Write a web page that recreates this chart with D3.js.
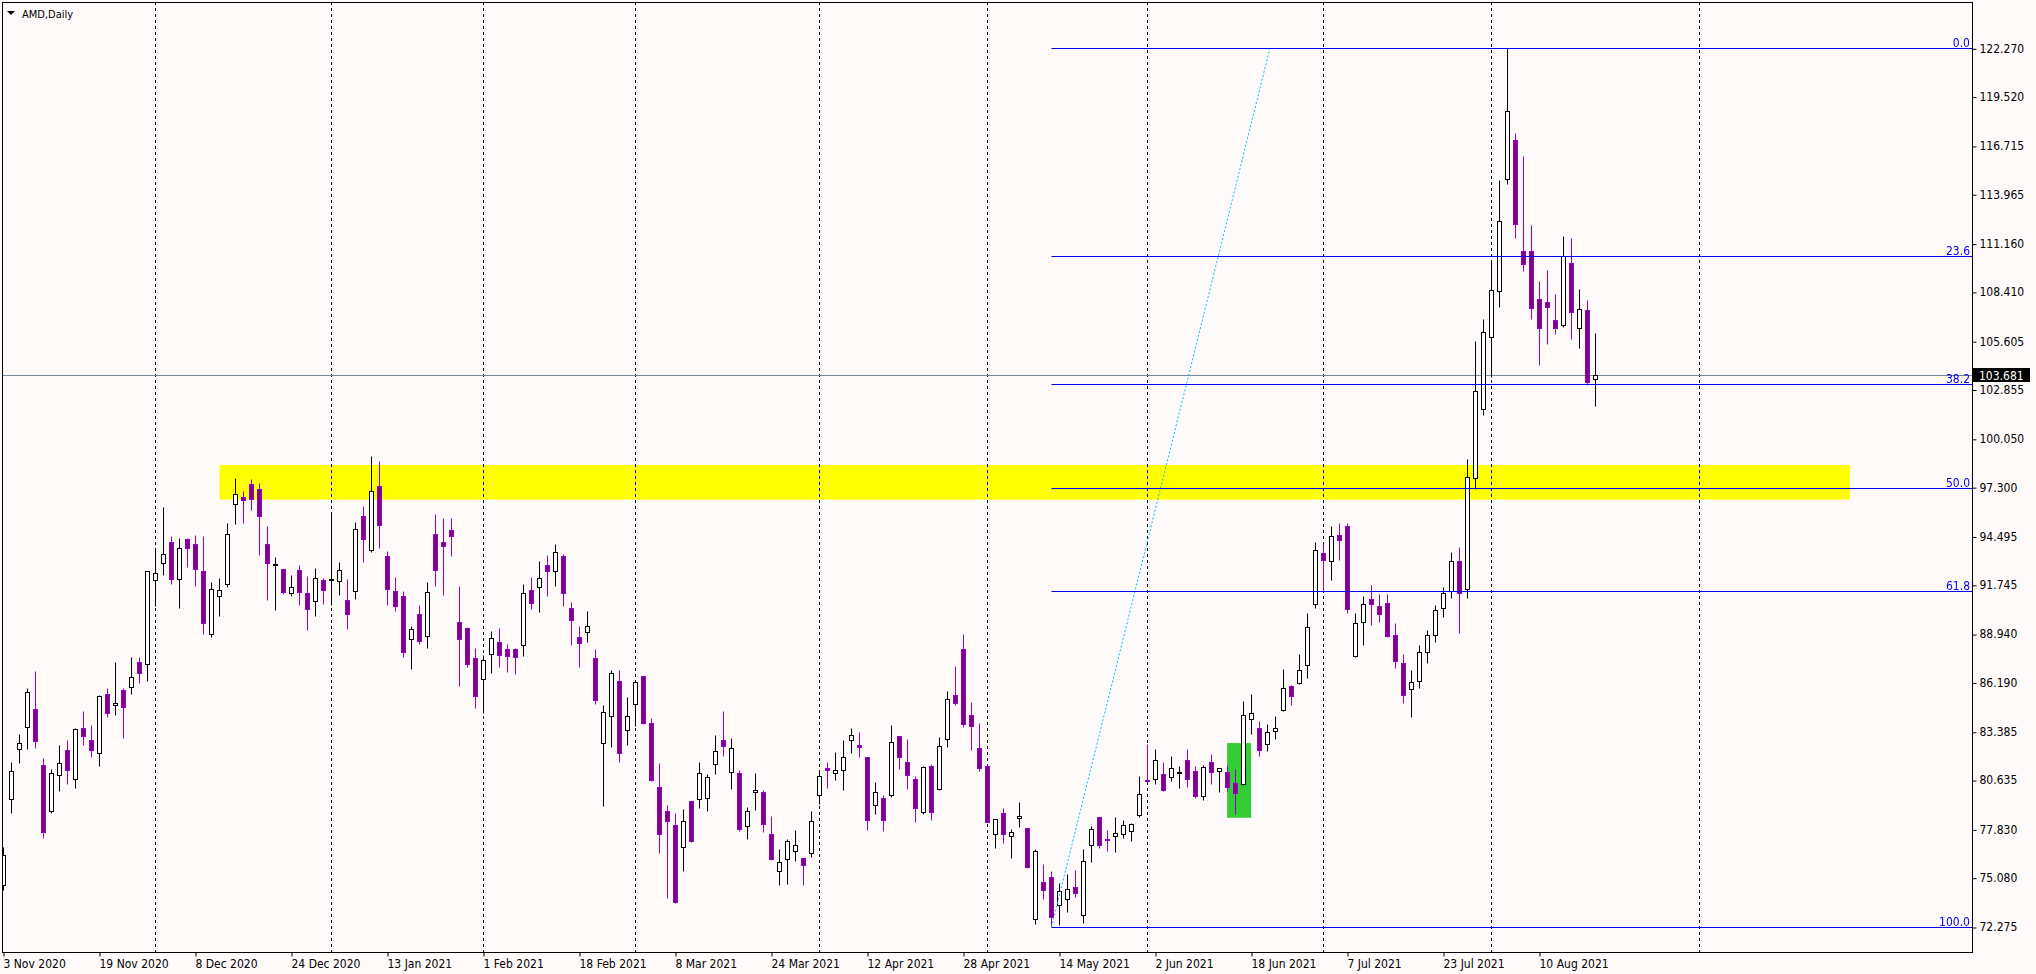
<!DOCTYPE html>
<html><head><meta charset="utf-8">
<script src="https://cdn.jsdelivr.net/npm/d3@7"></script>
<style>
html,body{margin:0;padding:0;background:#fffafa;}
svg{display:block;}
</style></head><body>
<svg id="c" width="2036" height="974"></svg>
<script>
const title = "AMD,Daily";
const openP = [
74.65,79.54,82.39,83.64,84.66,81.48,78.86,80.91,82.33,80.68,
83.58,82.90,82.16,85.52,84.89,85.74,85.91,87.34,87.22,92.00,
92.97,94.16,92.06,94.33,94.05,92.51,88.97,91.09,91.77,96.32,
96.72,97.46,97.17,94.04,92.90,92.62,91.26,92.56,91.26,90.84,
92.00,92.04,91.94,90.86,91.37,95.64,93.70,97.34,93.36,91.37,
91.08,88.64,90.06,88.81,94.61,94.16,94.84,89.61,89.26,87.56,
86.36,87.79,88.47,88.07,88.07,88.30,91.43,91.60,92.85,92.51,
93.36,90.40,88.75,89.04,87.56,82.72,84.26,86.25,83.46,84.94,
86.54,83.86,80.22,78.86,78.06,76.81,79.42,79.54,79.60,81.53,
82.90,81.11,81.02,78.00,79.94,79.94,77.55,75.44,76.13,76.58,
76.18,76.47,79.77,81.30,81.02,81.19,82.90,82.61,81.93,79.20,
79.60,79.77,83.12,81.64,80.68,78.80,81.42,80.11,82.95,85.46,
88.10,84.32,82.44,81.42,77.55,78.74,77.44,78.46,77.89,72.71,
74.82,75.10,73.51,73.85,74.53,72.94,76.92,78.52,77.27,77.44,
77.55,77.72,78.63,80.64,80.68,80.96,80.79,81.05,81.76,81.13,
79.71,81.64,81.13,81.08,80.45,80.39,84.09,83.58,82.67,83.41,
84.60,85.97,86.14,87.16,90.63,93.54,93.08,94.56,95.07,87.68,
89.61,90.92,90.52,90.69,88.90,87.30,85.80,86.30,87.90,88.90,
90.40,91.40,93.10,91.50,97.80,101.77,105.82,108.44,114.81,117.03,
110.72,110.72,107.99,107.82,106.79,106.51,110.04,106.34,107.36,103.43];
const highP = [
76.85,81.67,83.26,85.86,86.84,81.89,81.25,82.61,82.92,83.58,
84.57,83.77,85.45,85.86,87.36,85.86,87.64,87.64,92.55,93.82,
96.15,94.52,94.39,94.43,94.58,94.52,91.89,92.12,95.24,97.80,
97.11,97.76,97.53,95.09,93.32,92.64,92.28,92.90,92.24,92.70,
92.15,95.86,93.02,92.07,95.31,96.22,99.07,98.78,93.66,92.18,
91.39,89.38,90.59,91.90,95.77,95.54,95.54,91.67,89.36,88.15,
87.73,89.10,89.29,88.36,88.15,91.77,92.17,93.08,93.44,94.06,
93.48,90.76,89.38,90.25,88.09,84.89,86.90,86.88,85.34,86.31,
86.56,84.15,81.61,79.20,78.74,78.97,79.45,81.64,80.98,83.20,
84.56,83.03,81.19,79.08,81.04,80.05,78.59,76.71,77.26,77.78,
76.20,78.86,81.21,81.64,82.21,82.90,83.60,83.35,81.95,80.51,
79.77,83.75,83.14,82.95,80.85,81.42,81.53,83.07,85.69,87.10,
88.94,85.06,83.88,81.53,78.42,79.05,77.87,79.37,77.90,76.70,
75.86,75.44,74.76,75.27,75.50,76.70,78.00,78.53,77.78,78.52,
78.35,78.18,80.85,82.67,82.39,81.64,81.99,81.42,82.38,81.42,
81.47,82.10,81.31,81.47,81.25,85.12,85.51,83.98,83.81,84.26,
86.94,86.03,87.79,90.12,94.16,94.05,95.07,95.24,95.24,90.12,
91.09,91.72,91.20,91.20,89.60,87.80,86.90,88.30,89.20,90.60,
91.60,93.60,93.90,98.90,105.60,106.85,110.22,114.76,122.27,117.43,
116.12,112.20,109.01,109.64,108.27,111.57,111.46,108.56,107.93,106.05];
const lowP = [
74.38,78.75,81.63,82.42,82.48,77.36,78.75,80.04,80.43,80.21,
82.65,81.97,81.46,84.25,84.36,83.05,85.55,86.14,86.29,90.56,
92.32,91.81,90.45,92.76,91.68,88.95,88.80,89.99,91.64,95.22,
95.28,96.00,93.46,90.88,90.31,91.22,91.12,90.61,89.17,89.98,
90.65,90.59,91.18,89.23,90.95,93.06,93.63,93.85,90.61,90.25,
87.65,86.97,88.37,88.16,91.69,91.18,93.38,86.00,87.08,84.75,
84.43,86.74,87.09,86.80,86.69,87.71,90.35,90.21,91.13,91.69,
90.52,88.34,87.09,88.47,84.98,79.14,82.53,81.68,82.65,83.73,
83.84,80.60,76.50,73.94,73.62,75.48,77.13,79.07,78.89,80.96,
82.02,80.14,77.76,77.30,78.95,77.70,76.11,74.68,74.74,76.01,
74.65,76.28,79.25,80.17,80.66,80.09,82.19,81.93,77.78,78.72,
77.72,79.69,81.28,80.15,78.27,78.69,78.35,80.05,82.50,84.89,
83.68,82.37,81.17,78.25,76.79,77.08,76.22,77.99,75.65,72.47,
73.89,72.275,72.41,73.15,74.00,72.49,75.99,76.79,76.62,76.56,
77.36,77.19,78.52,80.55,80.43,79.99,80.56,80.17,80.22,79.60,
79.48,80.43,79.94,79.99,78.69,80.34,83.24,81.99,82.27,82.95,
84.55,84.89,86.12,86.42,90.41,91.37,92.00,93.14,90.12,87.66,
88.30,89.44,89.61,88.76,87.00,85.00,84.20,85.90,87.30,88.50,
89.90,91.00,89.00,91.00,97.20,101.40,103.59,107.53,114.53,111.46,
109.58,106.89,104.23,105.43,106.00,106.39,105.71,105.20,103.09,101.90];
const closeP = [
76.36,81.13,82.73,85.63,82.84,77.70,81.02,81.59,81.19,83.52,
83.13,82.33,85.40,84.43,85.00,84.81,86.48,86.75,92.51,92.40,
93.48,92.10,93.82,93.86,92.67,89.59,91.49,91.43,94.62,96.89,
96.58,96.64,95.67,93.00,92.93,91.33,91.60,91.35,90.38,92.11,
91.46,92.07,92.56,90.10,94.90,94.37,97.06,95.16,91.52,90.55,
87.94,89.21,88.56,91.31,92.60,93.97,94.54,88.68,87.25,85.40,
87.45,88.70,87.73,87.67,87.62,91.26,90.69,92.11,92.51,93.59,
91.26,89.72,88.41,89.38,85.17,84.49,86.71,82.16,84.26,86.19,
83.86,80.62,77.55,78.29,73.68,78.29,77.19,81.02,80.79,82.27,
82.55,82.44,77.87,78.86,80.05,78.15,76.16,75.95,77.15,76.92,
75.78,78.29,80.85,81.19,81.19,81.93,83.18,82.50,78.34,79.94,
78.34,82.78,81.93,80.90,79.03,81.36,78.80,82.56,85.23,85.00,
83.81,83.69,81.34,78.27,78.40,77.59,77.66,78.57,75.71,76.58,
74.36,72.83,74.31,74.42,74.19,76.01,77.83,76.92,77.21,77.61,
78.06,78.12,79.83,80.57,81.76,80.05,81.30,81.07,80.68,79.71,
81.36,81.08,81.30,80.22,79.88,84.32,84.43,82.33,83.35,83.58,
85.86,85.40,86.88,89.33,93.71,93.14,94.50,94.28,90.35,89.55,
90.63,90.63,90.07,88.81,87.40,85.50,86.20,87.90,88.90,90.30,
91.30,93.10,91.30,97.90,102.77,106.11,108.50,112.42,118.68,112.25,
109.98,107.48,106.34,107.53,106.34,110.43,107.29,107.42,103.26,103.68];

const priceTickLabels = ["122.270","119.520","116.715","113.965","111.160","108.410","105.605","102.855","100.050","97.300","94.495","91.745","88.940","86.190","83.385","80.635","77.830","75.080","72.275"];
const dateLabels = ["3 Nov 2020","19 Nov 2020","8 Dec 2020","24 Dec 2020","13 Jan 2021","1 Feb 2021","18 Feb 2021","8 Mar 2021","24 Mar 2021","12 Apr 2021","28 Apr 2021","14 May 2021","2 Jun 2021","18 Jun 2021","7 Jul 2021","23 Jul 2021","10 Aug 2021"];
const dateLabelBars = [0,12,24,36,48,60,72,84,96,108,120,132,144,156,168,180,192];
const monthStartBars = [19,41,60,79,102,123,143,165,186,212];
const fibLevels = [0,23.6,38.2,50,61.8,100];
const fibHigh = 122.27, fibLow = 72.275;
const fibLowBar = 131, fibHighBar = 158.3;
const currentPrice = 103.681;
const yellowZone = {b0:27, b1:230.8, p0:96.59, p1:98.56};
const greenZone = {b0:152.95, b1:155.95, p0:78.49, p1:82.74};

const W = 2036, H = 974;
const L = 2, T = 2, R = 1972, B = 952;
const FONT = '"DejaVu Sans Condensed","DejaVu Sans",sans-serif';
const svg = d3.select('#c');
svg.append('rect').attr('width',W).attr('height',H).attr('fill','#fffafa');

const x = d3.scaleLinear().domain([0,1]).range([3.5,11.5]);
const y = d3.scaleLinear().domain([fibLow,fibHigh]).range([927,48.3]);
const Y = p => Math.round(y(p)) + 0.5;

svg.append('clipPath').attr('id','plot').append('rect')
  .attr('x',L+1).attr('y',T+1).attr('width',R-L-1).attr('height',B-T-1);
const plot = svg.append('g').attr('clip-path','url(#plot)');
plot.append('rect').attr('x',L).attr('y',T).attr('width',R-L).attr('height',B-T).attr('fill','#fffafa');

// yellow zone
plot.append('rect')
  .attr('x', x(yellowZone.b0)).attr('width', x(yellowZone.b1)-x(yellowZone.b0))
  .attr('y', y(yellowZone.p1)).attr('height', y(yellowZone.p0)-y(yellowZone.p1))
  .attr('fill','#ffff00');
// green zone
plot.append('rect')
  .attr('x', x(greenZone.b0)).attr('width', x(greenZone.b1)-x(greenZone.b0))
  .attr('y', y(greenZone.p1)).attr('height', y(greenZone.p0)-y(greenZone.p1))
  .attr('fill','#32cd32');

// grid (month separators), drawn in XOR-like difference mode
plot.selectAll('line.grid').data(monthStartBars).join('line').attr('class','grid')
  .attr('x1', d=>x(d)).attr('x2', d=>x(d)).attr('y1',T).attr('y2',B)
  .attr('stroke','#ffffff').attr('stroke-width',1).attr('stroke-dasharray','3,3')
  .style('mix-blend-mode','difference');

// current price line
plot.append('line').attr('x1',L).attr('x2',R).attr('y1',Y(currentPrice)).attr('y2',Y(currentPrice))
  .attr('stroke','#778899').attr('stroke-width',1);

// candles
const bars = d3.range(openP.length).map(i=>({i,o:openP[i],h:highP[i],l:lowP[i],c:closeP[i]}));
const cg = plot.append('g');
const g = cg.selectAll('g').data(bars).join('g');
g.append('line')
  .attr('x1',d=>x(d.i)).attr('x2',d=>x(d.i))
  .attr('y1',d=>Y(d.h)).attr('y2',d=>Y(d.l))
  .attr('stroke',d=>d.c>=d.o?'#000000':'#9400d3').attr('stroke-width',1);
g.append('rect')
  .attr('x',d=>x(d.i)-2).attr('width',4)
  .attr('y',d=>Y(Math.max(d.o,d.c)))
  .attr('height',d=>Math.max(1, Y(Math.min(d.o,d.c))-Y(Math.max(d.o,d.c))))
  .attr('fill',d=>d.c>=d.o?'#ffffff':'#800080')
  .attr('stroke',d=>d.c>=d.o?'#000000':'#9400d3').attr('stroke-width',1);

// fibonacci
const fibPrice = lv => fibHigh - (fibHigh-fibLow)*lv/100;
plot.append('line')
  .attr('x1',x(fibLowBar)).attr('y1',y(fibLow)).attr('x2',x(fibHighBar)).attr('y2',y(fibHigh))
  .attr('stroke','#00bfff').attr('stroke-width',1).attr('stroke-dasharray','2,2');
const fg = plot.append('g');
fg.selectAll('line').data(fibLevels).join('line')
  .attr('x1',x(fibLowBar)).attr('x2',R).attr('y1',d=>Y(fibPrice(d))).attr('y2',d=>Y(fibPrice(d)))
  .attr('stroke','#0000ee').attr('stroke-width',1);
fg.selectAll('text').data(fibLevels).join('text')
  .attr('x',R-2).attr('y',d=>Y(fibPrice(d))-2).attr('text-anchor','end')
  .attr('font-family',FONT).attr('font-size',12).attr('fill','#0000ee')
  .text(d=>d.toFixed(1));

// frame
svg.append('rect').attr('x',L+0.5).attr('y',T+0.5).attr('width',R-L).attr('height',B-T)
  .attr('fill','none').attr('stroke','#000').attr('stroke-width',1);

// right axis
const ya = svg.append('g').attr('transform',`translate(${R+0.5},0)`)
  .call(d3.axisRight(y).tickValues(priceTickLabels.map(Number)).tickFormat((d,i)=>priceTickLabels[i]).tickSize(4).tickPadding(3));
ya.select('.domain').remove();
ya.selectAll('line').attr('stroke','#000').attr('transform','translate(0,0.5)');
ya.selectAll('text').attr('font-family',FONT).attr('font-size',12).attr('fill','#000');

// current price label
const cpY = Y(currentPrice);
svg.append('rect').attr('x',R+1).attr('y',cpY-7.5).attr('width',57).attr('height',14).attr('fill','#000');
svg.append('text').attr('x',R+7).attr('y',cpY).attr('dy','0.35em')
  .attr('font-family',FONT).attr('font-size',12).attr('fill','#fff').text(currentPrice.toFixed(3));

// bottom axis
const xa = svg.append('g').attr('transform',`translate(0,${B+0.5})`)
  .call(d3.axisBottom(x).tickValues(dateLabelBars).tickFormat((d,i)=>dateLabels[i]).tickSize(4).tickPadding(3));
xa.select('.domain').remove();
xa.selectAll('line').attr('stroke','#000');
xa.selectAll('text').attr('font-family',FONT).attr('font-size',12).attr('fill','#000')
  .attr('text-anchor','start').attr('x',-0.5);

// title
svg.append('path').attr('d','M7,11 L15,11 L11,15 Z').attr('fill','#000');
svg.append('text').attr('x',22).attr('y',17.5).attr('font-family',FONT).attr('font-size',11)
  .attr('fill','#000').text(title);
</script>
</body></html>
